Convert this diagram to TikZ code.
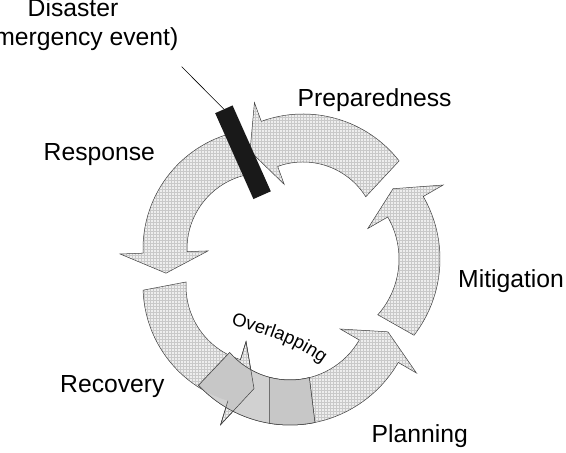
\documentclass[tikz,border=0pt]{standalone}
\usepackage{fontspec}
\setmainfont{Liberation Sans}
\usetikzlibrary{patterns,decorations.text}
\tikzset{
  cycarrow/.style={preaction={fill=gray!13}, preaction={pattern=grid, pattern color=gray!42}, draw=black!75, line width=0.5pt},
  olband/.style={fill=gray!36},
  oldark/.style={fill=gray!44},
  olline/.style={draw=black!75, line width=0.5pt},
  lbl/.style={font=\fontsize{24.7}{28}\selectfont, inner sep=0pt},
}
\begin{document}
\begin{tikzpicture}[x=1pt,y=1pt]
\useasboundingbox (0,0) rectangle (566,453);

% Recovery arrow
\begin{scope}[shift={(263,167)}]
\draw[cycarrow] (182:120) arc[start angle=182,end angle=253,radius=120] -- (253:145) -- (265:103) -- (253:58) -- (253:77) arc[start angle=253,end angle=177,radius=77] -- cycle;
\end{scope}

% Planning arrow
\begin{scope}[shift={(290,153)}]
\draw[cycarrow] (223:125) arc[start angle=223,end angle=330,radius=125] -- (330:146) -- (342:103) -- (330:58) -- (330:80) arc[start angle=330,end angle=221,radius=80] -- cycle;
\fill[olband] (223:125) arc[start angle=223,end angle=281.5,radius=125] -- (284:80) arc[start angle=284,end angle=221,radius=80] -- cycle;
\end{scope}

% overlap of Recovery head with Planning tail
\begin{scope}
\clip[shift={(290,153)}] (223:125) arc[start angle=223,end angle=281.5,radius=125] -- (284:80) arc[start angle=284,end angle=221,radius=80] -- cycle;
\fill[oldark, shift={(263,167)}] (182:120) arc[start angle=182,end angle=253,radius=120] -- (253:145) -- (265:103) -- (253:58) -- (253:77) arc[start angle=253,end angle=177,radius=77] -- cycle;
\end{scope}

\begin{scope}[shift={(290,153)}]
\draw[olline] (223:125) arc[start angle=223,end angle=281.5,radius=125] -- (284:80) arc[start angle=284,end angle=221,radius=80] -- cycle;
\draw[oldark, olline] (255:80) arc[start angle=255,end angle=284,radius=80] -- (281.5:125) arc[start angle=281.5,end angle=260.5,radius=125] -- cycle;
\end{scope}

\begin{scope}[shift={(263,167)}]
\draw[olline] (253:120) -- (253:145) -- (265:103) -- (253:58) -- (253:77);
\end{scope}

% Mitigation arrow
\begin{scope}[shift={(315,194)}]
\draw[cycarrow] (-37.6:125) arc[start angle=-37.6,end angle=30,radius=125] -- (30:148) -- (42:105) -- (30:61) -- (30:84) arc[start angle=30,end angle=-41.6,radius=84] -- cycle;
\end{scope}

% Response arrow
\begin{scope}[shift={(263,204)}]
\draw[cycarrow] (100:120) arc[start angle=100,end angle=182,radius=120] -- (182:143) -- (194:100) -- (182:55) -- (182:76) arc[start angle=182,end angle=100,radius=76] -- cycle;
\end{scope}

% Preparedness arrow
\begin{scope}[shift={(303,217)}]
\draw[cycarrow] (38:122) arc[start angle=38,end angle=110,radius=122] -- (110:142) -- (122:100) -- (110:55) -- (110:74) arc[start angle=110,end angle=32,radius=74] -- cycle;
\end{scope}

% disaster bar
\node[fill=black!90, minimum width=19pt, minimum height=94pt, rotate=24, inner sep=0pt] (bar) at (243,300.75) {};
\coordinate (dend) at (181.7,386.3);
\draw[line width=0.6pt] (bar.north) -- (dend);

% labels
\node[lbl, anchor=base] (dis1) at (73,436) {Disaster};
\node[lbl, anchor=base] (dis2) at (74,407) {(Emergency event)};
\node[lbl, anchor=base west] (prep) at (297.5,346) {Preparedness};
\node[lbl, anchor=base west] (resp) at (43.5,292) {Response};
\node[lbl, anchor=base west] (miti) at (458,165) {Mitigation};
\node[lbl, anchor=base west] (reco) at (60,60) {Recovery};
\node[lbl, anchor=base west] (plan) at (371.5,10.5) {Planning};

\path[decorate, decoration={text along path, text={|\fontsize{18.5}{22}\selectfont|Overlapping}, text align=left}]
  (231,129) .. controls (265,118) and (295,111) .. (328,85);
\end{tikzpicture}
\end{document}
